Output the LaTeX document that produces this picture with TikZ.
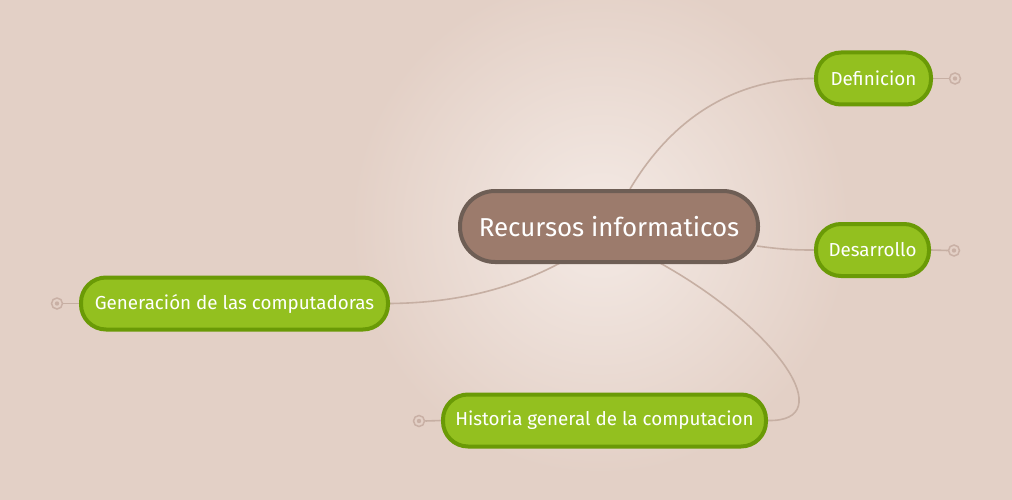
\documentclass[tikz,border=0pt]{standalone}
\usepackage{fontspec}
\setmainfont{Fira Sans}
\definecolor{bgc}{HTML}{E3D0C6}
\definecolor{glow}{HTML}{F4EAE5}
\definecolor{rootfill}{HTML}{9C7B6C}
\definecolor{rootline}{HTML}{6E5E55}
\definecolor{leaffill}{HTML}{93C01F}
\definecolor{leafline}{HTML}{6A9A06}
\definecolor{conn}{HTML}{C6AFA3}
\definecolor{knob}{HTML}{C9B0A5}
\pgfdeclarelayer{background}
\pgfsetlayers{background,main}
\tikzset{
  rootbox/.style={draw=rootline, line width=4pt, fill=rootfill, text=white,
    rounded corners=35pt, minimum width=298pt, minimum height=71pt, inner sep=0pt,
    font=\fontsize{25.9}{30}\selectfont},
  leafbox/.style={draw=leafline, line width=4pt, fill=leaffill, text=white,
    rounded corners=25pt, minimum height=52pt, inner sep=0pt,
    font=\fontsize{18.8}{22}\selectfont},
  link/.style={draw=conn, line width=1.6pt},
  knobc/.style={circle, draw=knob, line width=1.5pt, minimum size=11pt, inner sep=0pt,
    path picture={\fill[knob] (path picture bounding box.center) circle (2.2pt);}},
}
\begin{document}
\begin{tikzpicture}[x=1pt,y=-1pt]
\useasboundingbox (0,0) rectangle (1012,500);

\node[rootbox] (root) at (609,226.5) {Recursos informaticos};
\node[leafbox, minimum width=115pt] (def) at (873.5,78.5) {Definicion};
\node[leafbox, minimum width=113pt] (des) at (872.5,250) {Desarrollo};
\node[leafbox, minimum width=307pt] (gen) at (234.5,303.5) {Generación de las computadoras};
\node[leafbox, minimum width=323pt] (his) at (604.5,420.5) {Historia general de la computacion};

\coordinate (r1) at (630,189);
\coordinate (r2) at (757,246);
\coordinate (r3) at (560,263);
\coordinate (r4) at (660,263);

\node[knobc] (k1) at (955,78.5) {};
\node[knobc] (k2) at (954,250.5) {};
\node[knobc] (k3) at (57,303.5) {};
\node[knobc] (k4) at (419,421) {};

\begin{pgfonlayer}{background}
\fill[bgc] (0,0) rectangle (1012,500);
\shade[inner color=glow, outer color=bgc] (600,225) circle (250);
\draw[link] (r1) .. controls (680,105) and (750,78) .. (def.west);
\draw[link] (r2) .. controls (785,250) and (800,250) .. (des.west);
\draw[link] (r3) .. controls (500,295) and (440,303) .. (gen.east);
\draw[link] (r4) .. controls (780,330) and (840,422) .. (his.east);
\draw[link] (def.east) -- (k1.west);
\draw[link] (des.east) -- (k2.west);
\draw[link] (gen.west) -- (k3.east);
\draw[link] (his.west) -- (k4.east);
\end{pgfonlayer}
\end{tikzpicture}
\end{document}
